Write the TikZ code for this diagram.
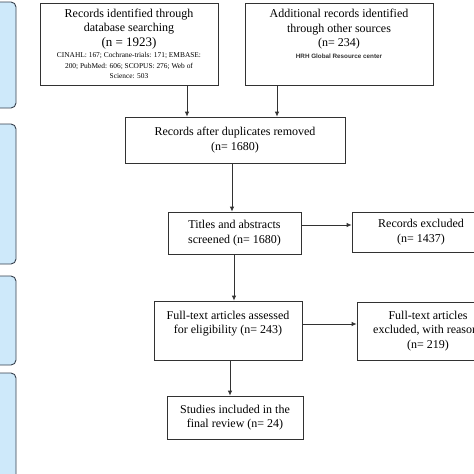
\documentclass[tikz,border=0pt]{standalone}
\usepackage{fontspec}
\setmainfont{Liberation Serif}
\newfontfamily\hrhfont{Liberation Sans}
\usetikzlibrary{arrows.meta}
\definecolor{sidefill}{RGB}{206,233,250}
\definecolor{sideline}{RGB}{55,65,78}
\definecolor{boxline}{RGB}{50,50,50}
\tikzset{
  box/.style={draw=boxline, line width=0.8pt, inner sep=0pt, align=center,
    font=\fontsize{12}{14.5}\selectfont},
  txt/.style={inner sep=0pt, align=center, font=\fontsize{12}{14.5}\selectfont},
  arr/.style={draw=boxline, line width=0.8pt, -{Latex[length=5pt,width=4.5pt]}},
  side/.style={fill=sidefill, draw=sideline, line width=0.9pt, rounded corners=5pt}
}
\begin{document}
\begin{tikzpicture}[x=1pt,y=-1pt]
\useasboundingbox (0,0) rectangle (474,474);
\clip (0,0) rectangle (474,474);
% side panels
\draw[side] (-20,2) rectangle (16,108);
\draw[side] (-20,124) rectangle (16,264);
\draw[side] (-20,276) rectangle (16,365);
\draw[side] (-20,373) rectangle (16,500);
% boxes
\node[box, minimum width=178pt, minimum height=82pt] (b1) at (129,44)
  {Records identified through\\database searching\\{\fontsize{13}{14.5}\selectfont (n = 1923)}\\[-3pt]
   {\fontsize{7.4}{9.5}\selectfont CINAHL: 167; Cochrane-trials: 171; EMBASE:}\\[-4pt]
   {\fontsize{7.4}{9.5}\selectfont 200; PubMed: 606; SCOPUS: 276; Web of}\\[-4pt]
   {\fontsize{7.4}{9.5}\selectfont Science: 503}};
\node[box, minimum width=188pt, minimum height=82pt] (b2) at (339,44) {};
\node[txt, anchor=north] (t2) at (339,9)
  {Additional records identified\\through other sources\\(n= 234)\\[-3pt]
   {\hrhfont\bfseries\fontsize{6.3}{8}\selectfont\color{black!80} HRH Global Resource center}};
\node[box, minimum width=220pt, minimum height=46pt] (b3) at (235,140)
  {Records after duplicates removed\\(n= 1680)};
\node[box, minimum width=133pt, minimum height=42pt] (b4) at (234.5,233)
  {Titles and abstracts\\screened (n= 1680)};
\node[box, minimum width=138pt, minimum height=40pt] (b5) at (421,232)
  {Records excluded\\(n= 1437)};
\node[box, minimum width=148pt, minimum height=59pt] (b6) at (228,330.5) {};
\node[txt] (t6) at (228,323.5) {Full-text articles assessed\\for eligibility (n= 243)};
\node[box, minimum width=142pt, minimum height=58pt] (b7) at (428,331)
  {Full-text articles\\excluded, with reasons\\(n= 219)};
\node[box, minimum width=136pt, minimum height=43pt] (b8) at (235,417.5)
  {Studies included in the\\final review (n= 24)};
% guide coordinates
\coordinate (xa) at (187,0);
\coordinate (xb) at (277,0);
\coordinate (xc) at (232,0);
\coordinate (xd) at (234,0);
\coordinate (xe) at (230,0);
\coordinate (ya) at (0,225);
\coordinate (yb) at (0,324);
% connectors
\draw[arr] (b1.south -| xa) -- (b3.north -| xa);
\draw[arr] (b2.south -| xb) -- (b3.north -| xb);
\draw[arr] (b3.south -| xc) -- (b4.north -| xc);
\draw[arr] (b4.east |- ya) -- (b5.west |- ya);
\draw[arr] (b4.south -| xd) -- (b6.north -| xd);
\draw[arr] (b6.east |- yb) -- (b7.west |- yb);
\draw[arr] (b6.south -| xe) -- (b8.north -| xe);
\end{tikzpicture}
\end{document}
